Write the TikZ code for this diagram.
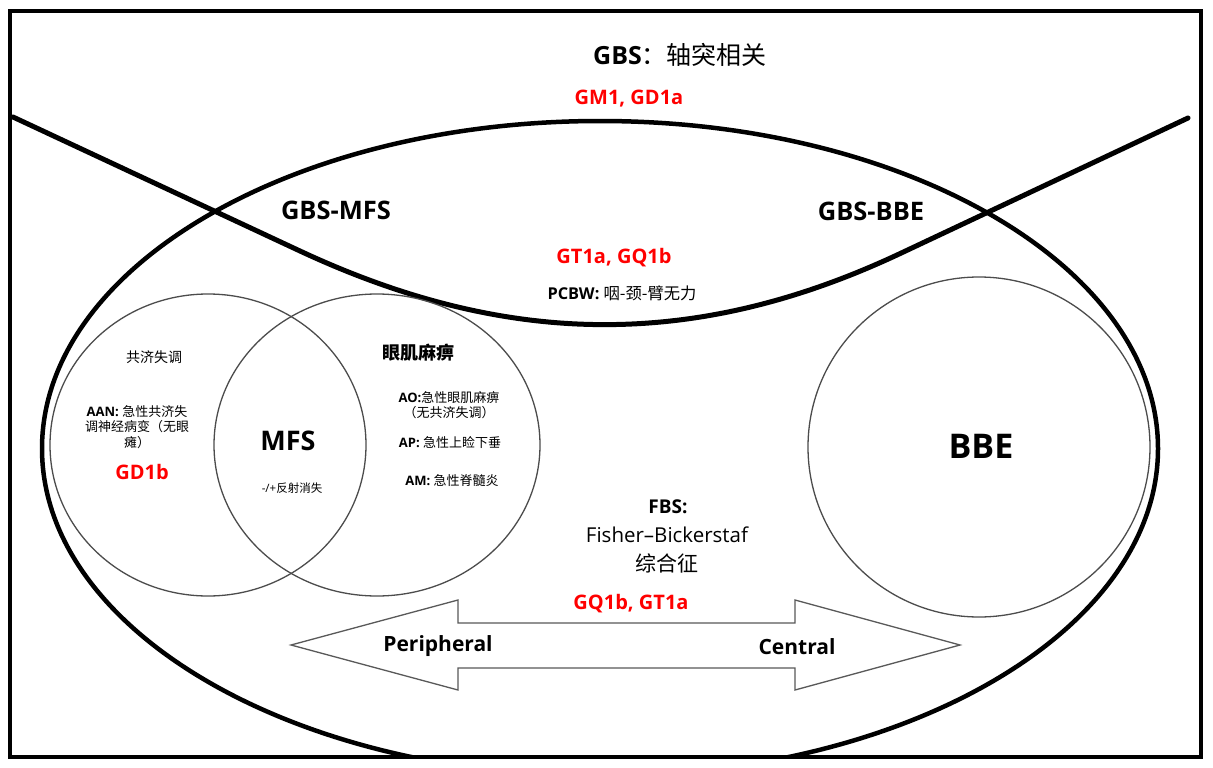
\documentclass[tikz,border=0pt]{standalone}
\usepackage{fontspec}
\setmainfont{Open Sans}
\newfontfamily\cjk{Noto Sans CJK SC}
\begin{document}
\begin{tikzpicture}[x=1pt,y=-1pt,
  heavyline/.style={line width=4.5pt, draw=black},
  ringline/.style={line width=1.3pt, draw=black!70},
  arrowline/.style={line width=1.3pt, draw=black!65, line join=miter},
  lab/.style={inner sep=0pt, align=center},
  redlab/.style={lab, text=red, font=\bfseries\fontsize{20}{24}\selectfont},
  biglab/.style={lab, font=\bfseries\fontsize{25.5}{30}\selectfont},
  smalllab/.style={lab, font=\fontsize{13}{15.5}\selectfont}
]
\useasboundingbox (0,0) rectangle (1213,768);
\fill[white] (0,0) rectangle (1213,768);

% big ellipse, clipped to frame
\begin{scope}
  \clip (10,11) rectangle (1201,757);
  \draw[heavyline] (600,448.6) ellipse [x radius=558, y radius=327.6];
\end{scope}

% hanging curve
\coordinate (cl) at (13,117);
\coordinate (cr) at (1188,118);
\draw[line width=5pt, line cap=round, line join=round]
  (cl) -- (300,251) .. controls (506,347) and (694,350.4) .. (900,253.6) -- (cr);

% frame
\draw[line width=4.5pt] (10,11) rectangle (1201,757);

% circles
\draw[ringline] (208,445) ellipse [x radius=158, y radius=151];
\draw[ringline] (377,445) ellipse [x radius=163, y radius=151];
\draw[ringline] (979,447) ellipse [x radius=171, y radius=170];

% double arrow
\draw[arrowline] (291,645) -- (458,600) -- (458,623) -- (795,623) -- (795,600)
  -- (960,645) -- (795,690) -- (795,668) -- (458,668) -- (458,690) -- cycle;

% texts
\node[lab, font=\fontsize{25}{30}\selectfont] (title) at (680,55)
  {\textbf{GBS}{\cjk ：轴突相关}};
\node[redlab] (gm1) at (629,99) {GM1, GD1a};
\node[biglab] (gbsmfs) at (336,210) {GBS-MFS};
\node[biglab] (gbsbbe) at (871,211) {GBS-BBE};
\node[redlab] (gt1a) at (614,258) {GT1a, GQ1b};
\node[lab, font=\fontsize{16.3}{19}\selectfont] (pcbw) at (622,293)
  {\textbf{PCBW:} {\cjk 咽-颈-臂无力}};

\node[lab, font=\cjk\fontsize{14}{17}\selectfont] (ataxia) at (154,357) {共济失调};
\node[smalllab] (aan) at (137,427)
  {\textbf{AAN:} {\cjk 急性共济失}\\{\cjk 调神经病变（无眼}\\{\cjk 瘫）}};
\node[redlab] (gd1b) at (142,472) {GD1b};

\node[lab, font=\bfseries\fontsize{27}{32}\selectfont] (mfs) at (288,441) {MFS};
\node[lab, font=\fontsize{11.5}{14}\selectfont] (refl) at (292,488) {-/+{\cjk 反射消失}};

\node[lab, font=\cjk\bfseries\fontsize{18}{22}\selectfont] (oph) at (418,353) {眼肌麻痹};
\node[smalllab] (ao) at (449,405)
  {\textbf{AO:}{\cjk 急性眼肌麻痹}\\{\cjk （无共济失调）}};
\node[smalllab] (ap) at (450,443) {\textbf{AP:} {\cjk 急性上睑下垂}};
\node[smalllab] (am) at (452,481) {\textbf{AM:} {\cjk 急性脊髓炎}};

\node[lab, font=\bfseries\fontsize{19}{23}\selectfont] (fbs) at (668,507) {FBS:};
\node[lab, font=\fontsize{20.5}{24}\selectfont] (fisher) at (667,535) {Fisher\textendash Bickerstaf};
\node[lab, font=\cjk\fontsize{21}{25}\selectfont] (syn) at (667,563) {综合征};
\node[redlab] (gq1b) at (631,604) {GQ1b, GT1a};

\node[lab, font=\bfseries\fontsize{21}{25}\selectfont] (periph) at (438,646) {Peripheral};
\node[lab, font=\bfseries\fontsize{21}{25}\selectfont] (central) at (797,647) {Central};

\node[lab, font=\bfseries\fontsize{34}{40}\selectfont] (bbe) at (981,446) {BBE};
\end{tikzpicture}
\end{document}
